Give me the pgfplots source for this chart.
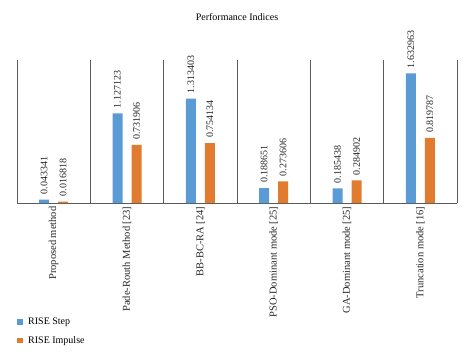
\documentclass[border=0pt]{standalone}
\usepackage{pgfplots}
\pgfplotsset{compat=1.18}
\usepackage{fontspec}
\setmainfont{Liberation Serif}
\definecolor{stepblue}{HTML}{5B9BD5}
\definecolor{impulseorange}{HTML}{E07B30}
\definecolor{sepgray}{HTML}{5A5A5A}
\begin{document}
\begin{tikzpicture}
\begin{axis}[
  scale only axis, width=440pt, height=143pt,
  xmin=-0.5, xmax=5.5, ymin=0, ymax=1.8,
  clip=false,
  axis x line*=bottom, axis y line=none,
  x axis line style={sepgray, line width=0.8pt, -},
  xtick={0,1,2,3,4,5},
  xticklabels={Proposed method, Pade-Routh Method [23], BB-BC-RA [24], PSO-Dominant mode [25], GA-Dominant mode [25], Truncation mode [16]},
  major tick length=0pt,
  xticklabel style={rotate=90, anchor=east, font=\fontsize{10.5}{12}\selectfont, text=black!85},
  extra x ticks={-0.5,0.5,1.5,2.5,3.5,4.5,5.5},
  extra x tick labels={},
  extra x tick style={grid=major, major grid style={sepgray, line width=0.8pt}},
  ybar=9pt, bar width=10pt,
  point meta=explicit symbolic,
  nodes near coords,
  nodes near coords style={rotate=90, anchor=west, font=\fontsize{10}{12}\selectfont, text=black!85, inner sep=2pt, xshift=3pt},
  legend style={at={(0,-0.79)}, anchor=north west, draw=none, fill=none, font=\fontsize{10}{12}\selectfont, row sep=6pt, inner sep=0pt},
  legend cell align=left,
  legend image code/.code={\fill[#1] (0pt,-2.5pt) rectangle (5.5pt,3pt); \path (0pt,0pt) -- (9pt,0pt);},
  title={Performance Indices},
  title style={font=\fontsize{10}{12}\selectfont, at={(0.5,1)}, anchor=south, yshift=30pt},
]
\addplot[fill=stepblue, draw=none] coordinates {
  (0,0.043341) [0.043341]
  (1,1.127123) [1.127123]
  (2,1.313403) [1.313403]
  (3,0.188651) [0.188651]
  (4,0.185438) [0.185438]
  (5,1.632963) [1.632963]
};
\addplot[fill=impulseorange, draw=none] coordinates {
  (0,0.016818) [0.016818]
  (1,0.731906) [0.731906]
  (2,0.754134) [0.754134]
  (3,0.273606) [0.273606]
  (4,0.284902) [0.284902]
  (5,0.819787) [0.819787]
};
\legend{RISE Step, RISE Impulse}
\coordinate (BL) at (rel axis cs:0,0);
\coordinate (TR) at (rel axis cs:1,1);
\end{axis}
\path ([xshift=-17pt,yshift=-160pt]BL) rectangle ([xshift=17pt,yshift=60pt]TR);
\end{tikzpicture}
\end{document}
